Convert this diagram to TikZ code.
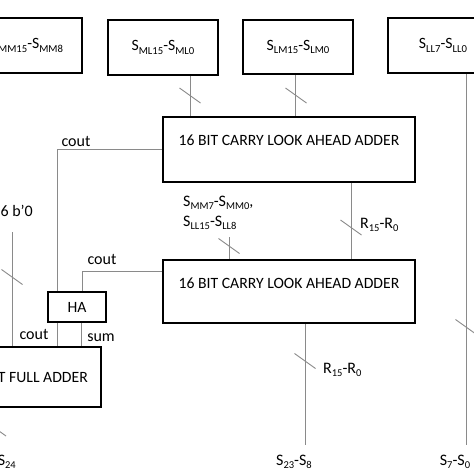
\documentclass[tikz,border=0pt]{standalone}
\usepackage{fontspec}
\setmainfont{Carlito}
\usetikzlibrary{calc}
\newcommand{\sbs}[1]{\raisebox{-0.22em}{\fontsize{10.5}{11}\selectfont #1}}
\newcommand{\bsbs}[1]{\raisebox{-0.22em}{\fontsize{10.7}{11}\selectfont #1}}
\definecolor{wirec}{HTML}{8A8A8A}
\tikzset{
  box/.style={draw=black, line width=1.7pt, inner sep=0pt},
  wire/.style={draw=wirec, line width=0.9pt},
  lbl/.style={font=\fontsize{16}{19}\selectfont, inner sep=0pt, text=black},
  blbl/.style={font=\fontsize{15.7}{19}\selectfont, inner sep=0pt, text=black},
  busmark/.pic={\draw[wire] (-10.5,-7.5) -- (10.5,7.5);}
}
\begin{document}
\begin{tikzpicture}[x=1pt,y=-1pt]
\useasboundingbox (0,0) rectangle (474,474);
\clip (0,0) rectangle (474,474);
\fill[white] (0,0) rectangle (474,474);

% top input boxes
\node[box, minimum width=110pt, minimum height=55pt] (smm) at (27,45.5) {};
\node[blbl] (smmt) at (smm.center) {S\bsbs{MM15}-S\bsbs{MM8}};
\node[box, minimum width=110pt, minimum height=55pt] (sml) at (163,47.5) {};
\node[blbl] (smlt) at (sml.center) {S\bsbs{ML15}-S\bsbs{ML0}};
\node[box, minimum width=110pt, minimum height=54pt] (slm) at (298,47) {};
\node[blbl] (slmt) at (slm.center) {S\bsbs{LM15}-S\bsbs{LM0}};
\node[box, minimum width=110pt, minimum height=55pt] (sll) at (443,45.5) {};
\node[blbl] (sllt) at (sll.center) {S\bsbs{LL7}-S\bsbs{LL0}};

% adders
\node[box, minimum width=252pt, minimum height=65pt] (cla1) at (289,149.5) {};
\node[blbl] (cla1t) at ($(cla1.center)+(0,-9.5)$) {16 BIT CARRY LOOK AHEAD ADDER};
\node[box, minimum width=252pt, minimum height=63pt] (cla2) at (289,291.5) {};
\node[blbl] (cla2t) at ($(cla2.center)+(0,-8.5)$) {16 BIT CARRY LOOK AHEAD ADDER};
\node[box, minimum width=58pt, minimum height=30pt] (ha) at (77,307) {};
\node[blbl] (hat) at (ha.center) {HA};
\node[box, minimum width=146pt, minimum height=60pt] (fa) at (28,377) {};
\node[blbl, anchor=east] (fat) at (88,377) {8 BIT FULL ADDER};

% wires into CLA1
\coordinate (w1) at ($(sml.south)+(27,0)$);
\draw[wire] (w1) -- (w1 |- cla1.north);
\pic at (190,95.5) {busmark};
\coordinate (w2) at ($(slm.south)+(-3,0)$);
\draw[wire] (w2) -- (w2 |- cla1.north);
\pic at (296,95.5) {busmark};

% SLL output
\coordinate (w3) at ($(sll.south)+(23,0)$);
\coordinate (o3) at (466,445);
\draw[wire] (w3) -- (o3);
\pic at (466,327) {busmark};
\node[lbl] (o3t) at (455,462) {S\sbs{7}-S\sbs{0}};

% CLA1 -> CLA2 result
\coordinate (w4) at ($(cla1.south)+(62,0)$);
\draw[wire] (w4) -- (w4 |- cla2.north);
\pic at (351,227.5) {busmark};
\node[lbl, anchor=west] (r1t) at (360,225) {R\sbs{15}-R\sbs{0}};

% SMM7 / SLL15 input
\coordinate (w5) at (229,237);
\draw[wire] (w5) -- (w5 |- cla2.north);
\pic at (229,246) {busmark};
\node[lbl, anchor=west] (in5a) at (183,203) {S\sbs{MM7}-S\sbs{MM0},};
\node[lbl, anchor=west] (in5b) at (183,223) {S\sbs{LL15}-S\sbs{LL8}};

% CLA2 output
\coordinate (w6) at ($(cla2.south)+(16,0)$);
\coordinate (o6) at (305,445);
\draw[wire] (w6) -- (o6);
\pic at (305,361) {busmark};
\node[lbl, anchor=west] (r2t) at (323,370) {R\sbs{15}-R\sbs{0}};
\node[lbl] (o6t) at (294,462) {S\sbs{23}-S\sbs{8}};

% carries into HA
\draw[wire] (cla1.west) -| ($(ha.north)+(-20,0)$);
\node[lbl] (c1t) at (76,141) {cout};
\draw[wire] ($(cla2.west)+(0,-20.5)$) -| ($(ha.north)+(5,0)$);
\node[lbl] (c2t) at (102,259) {cout};

% HA -> FA
\coordinate (h1) at ($(ha.south)+(-20,0)$);
\draw[wire] (h1) -- (h1 |- fa.north);
\coordinate (h2) at ($(ha.south)+(4,0)$);
\draw[wire] (h2) -- (h2 |- fa.north);
\node[lbl] (c3t) at (34,334) {cout};
\node[lbl] (st) at (101,338) {sum};

% 16 b'0 input
\coordinate (z0) at (12,232);
\draw[wire] (z0) -- (z0 |- fa.north);
\pic at (12,277) {busmark};
\node[lbl, anchor=east] (z0t) at (33,211) {16 b’0};

% FA output
\coordinate (w7) at ($(fa.south)+(-33,0)$);
\coordinate (o7) at (-5,445);
\draw[wire] (w7) -- (o7);
\pic at (-4.5,428.5) {busmark};
\node[lbl, anchor=east] (o7t) at (16,462) {S\sbs{31}-S\sbs{24}};
\end{tikzpicture}
\end{document}
